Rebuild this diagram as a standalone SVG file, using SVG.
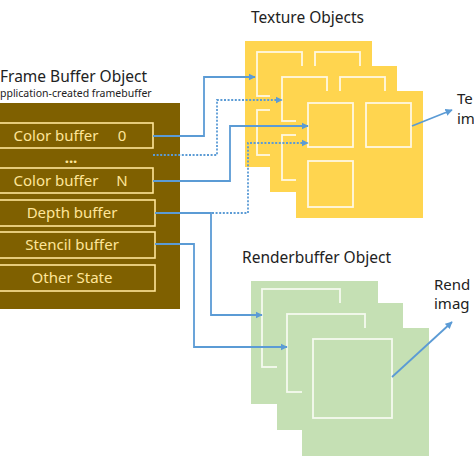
<svg xmlns="http://www.w3.org/2000/svg" width="474" height="474" viewBox="0 0 474 474">
<style>
text{font-family:"Noto Sans","Open Sans",sans-serif;}
.title{font-size:15.5px;fill:#222;}
.sub{font-size:10.5px;fill:#222;}
.fbo{fill:#7F6000;}
.slot{fill:none;stroke:#FFE699;stroke-width:1.6;}
.slt{font-size:15px;fill:#FFE699;text-anchor:middle;}
.tex{fill:#FFD54F;}
.rb{fill:#C5E0B4;}
.inner{fill:none;stroke:#FFF8E1;stroke-width:1.8;}
.innerg{fill:none;stroke:#F4FAEF;stroke-width:1.8;}
.c{fill:none;stroke:#5B9BD5;stroke-width:1.8;}
.d{fill:none;stroke:#5B9BD5;stroke-width:1.8;stroke-dasharray:2 1.6;}
.lbl{font-size:15px;fill:#222;}
</style>
<defs>
<marker id="ah" viewBox="0 0 10 10" refX="9" refY="5" markerWidth="4" markerHeight="4" orient="auto" markerUnits="strokeWidth">
<path d="M0,0 L10,5 L0,10 z" fill="#5B9BD5"/>
</marker>
</defs>

<g id="fbo">
<text class="title" x="0" y="82">Frame Buffer Object</text>
<text class="sub" x="0" y="97">pplication-created framebuffer</text>
<rect class="fbo" x="-5" y="103" width="185" height="206"/>
<rect class="slot" x="-5" y="123" width="158" height="25"/>
<text class="slt" x="56" y="141">Color buffer</text>
<text class="slt" x="122" y="141">0</text>
<text class="slt" x="71" y="163" font-weight="bold" font-size="12">...</text>
<rect class="slot" x="-5" y="168" width="158" height="25"/>
<text class="slt" x="56" y="186">Color buffer</text>
<text class="slt" x="122" y="186">N</text>
<rect class="slot" x="-5" y="200" width="160" height="26"/>
<text class="slt" x="72" y="218">Depth buffer</text>
<rect class="slot" x="-5" y="232" width="160" height="26"/>
<text class="slt" x="72" y="250">Stencil buffer</text>
<rect class="slot" x="-5" y="265" width="160" height="26"/>
<text class="slt" x="72" y="283">Other State</text>
</g>

<g id="texture-objects">
<text class="title" x="251" y="23">Texture Objects</text>
<g id="tex-back">
<rect class="tex" x="245" y="41" width="127" height="126"/>
<rect class="inner" x="257" y="52" width="45" height="44"/>
<rect class="inner" x="315" y="52" width="45" height="44"/>
<rect class="inner" x="257" y="110" width="45" height="45"/>
</g>
<g id="tex-mid">
<rect class="tex" x="270" y="66" width="127" height="126"/>
<rect class="inner" x="282" y="77" width="45" height="44"/>
<rect class="inner" x="340" y="77" width="45" height="44"/>
<rect class="inner" x="282" y="135" width="45" height="45"/>
</g>
<g id="tex-front">
<rect class="tex" x="296" y="91" width="127" height="127"/>
<rect class="inner" x="308" y="103" width="45" height="44"/>
<rect class="inner" x="366" y="103" width="45" height="44"/>
<rect class="inner" x="308" y="161" width="45" height="46"/>
</g>
<text class="lbl" x="457" y="104">Te</text>
<text class="lbl" x="457" y="124">im</text>
</g>

<g id="renderbuffer-object">
<text class="title" x="242" y="263">Renderbuffer Object</text>
<g id="rb-back">
<rect class="rb" x="251" y="281" width="127" height="123"/>
<rect class="innerg" x="262" y="289" width="78" height="78"/>
</g>
<g id="rb-mid">
<rect class="rb" x="277" y="303" width="126" height="127"/>
<rect class="innerg" x="287" y="314" width="78" height="78"/>
</g>
<g id="rb-front">
<rect class="rb" x="302" y="328" width="127" height="128"/>
<rect class="innerg" x="313" y="339" width="79" height="79"/>
</g>
<text class="lbl" x="434" y="290">Rend</text>
<text class="lbl" x="434" y="309">imag</text>
</g>

<g id="connectors">
<path class="c" d="M153,136 H204 V77 H255" marker-end="url(#ah)"/>
<path class="d" d="M153,155 H217 V100 H282" marker-end="url(#ah)"/>
<path class="c" d="M153,181 H230 V126 H308" marker-end="url(#ah)"/>
<path class="d" d="M212,213 H248 V143 H308" marker-end="url(#ah)"/>
<path class="c" d="M155,213 H211 V315 H262" marker-end="url(#ah)"/>
<path class="c" d="M155,244 H194 V347 H287" marker-end="url(#ah)"/>
<path class="c" d="M412,126 L452,110" marker-end="url(#ah)"/>
<path class="c" d="M392,377 L452,322" marker-end="url(#ah)"/>
</g>
</svg>
